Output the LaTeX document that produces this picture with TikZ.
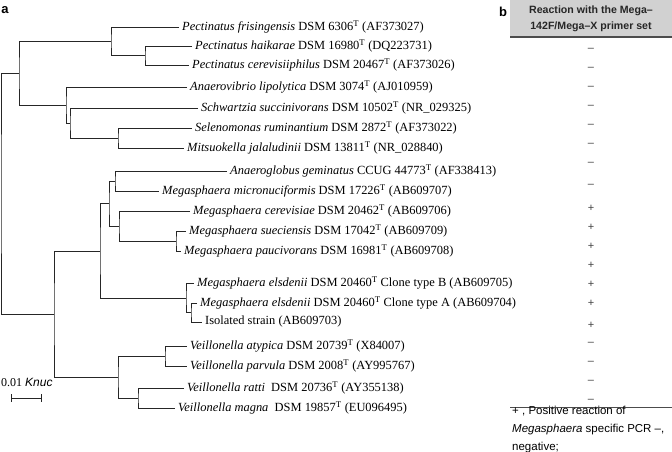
\documentclass[tikz,border=0pt]{standalone}
\usepackage{graphicx}
\usepackage{fontspec}
\setmainfont{Liberation Serif}
\newfontfamily\hsans{Liberation Sans}
\begin{document}
\begin{tikzpicture}[x=1pt,y=-1pt,
  br/.style={line width=0.8pt,draw=black!85},
  lbl/.style={anchor=west,inner sep=0pt,font=\fontsize{15}{16}\selectfont},
  sg/.style={font=\hsans\fontsize{11}{11}\selectfont,inner sep=0pt,text=black!75},
  panel/.style={font=\hsans\bfseries\fontsize{13}{13}\selectfont,inner sep=0pt}]
\useasboundingbox (0,0) rectangle (672,452);
\fill[black!18] (510,0) rectangle (672,37);
\draw[line width=1.5pt,black!70] (510,37) -- (672,37);
\draw[line width=1pt,black!70] (510,407) -- (672,407);
\node[panel] (la) at (5,10) {a};
\node[panel] (lb) at (503,12) {b};
\node[align=center,font=\hsans\bfseries\fontsize{10.6}{15.5}\selectfont,text=black!85] (hd) at (591,19) {Reaction with the Mega–\\142F/Mega–X primer set};
\node[anchor=north west,align=left,font=\hsans\fontsize{11.5}{18}\selectfont,inner sep=0pt] (fn) at (512,406) {+ , Positive reaction of\\\textit{Megasphaera} specific PCR –,\\negative;};
% leaves
\def\lf#1#2#3#4{\coordinate (#1) at (#3,#2); \node[lbl] (t#1) at (#3+3,#2) {\scalebox{0.83}{#4}};}
\lf{a1}{27}{179}{\textit{Pectinatus frisingensis} DSM 6306\textsuperscript{T} (AF373027)}
\lf{a2}{46}{192}{\textit{Pectinatus haikarae} DSM 16980\textsuperscript{T} (DQ223731)}
\lf{a3}{65}{189}{\textit{Pectinatus cerevisiiphilus} DSM 20467\textsuperscript{T} (AF373026)}
\lf{a4}{87}{187}{\textit{Anaerovibrio lipolytica} DSM 3074\textsuperscript{T} (AJ010959)}
\lf{a5}{108}{198}{\textit{Schwartzia succinivorans} DSM 10502\textsuperscript{T} (NR\_029325)}
\lf{a6}{128}{192}{\textit{Selenomonas ruminantium} DSM 2872\textsuperscript{T} (AF373022)}
\lf{a7}{148}{184}{\textit{Mitsuokella jalaludinii} DSM 13811\textsuperscript{T} (NR\_028840)}
\lf{a8}{171}{227}{\textit{Anaeroglobus geminatus} CCUG 44773\textsuperscript{T} (AF338413)}
\lf{a9}{191}{159}{\textit{Megasphaera micronuciformis} DSM 17226\textsuperscript{T} (AB609707)}
\lf{a10}{211}{190}{\textit{Megasphaera cerevisiae} DSM 20462\textsuperscript{T} (AB609706)}
\lf{a11}{231}{186}{\textit{Megasphaera sueciensis} DSM 17042\textsuperscript{T} (AB609709)}
\lf{a12}{251}{181}{\textit{Megasphaera paucivorans} DSM 16981\textsuperscript{T} (AB609708)}
\lf{a13}{283}{194}{\textit{Megasphaera elsdenii} DSM 20460\textsuperscript{T} Clone type B (AB609705)}
\lf{a14}{303}{197}{\textit{Megasphaera elsdenii} DSM 20460\textsuperscript{T} Clone type A (AB609704)}
\lf{a15}{322}{202}{Isolated strain (AB609703)}
\lf{a16}{346}{187}{\textit{Veillonella atypica} DSM 20739\textsuperscript{T} (X84007)}
\lf{a17}{366}{187}{\textit{Veillonella parvula} DSM 2008\textsuperscript{T} (AY995767)}
\lf{a18}{388}{184}{\textit{Veillonella ratti}\ \ DSM 20736\textsuperscript{T} (AY355138)}
\lf{a19}{408}{175}{\textit{Veillonella magna}\ \ DSM 19857\textsuperscript{T} (EU096495)}
% internal nodes: name, x, y, child1, child2
\def\nd#1#2#3#4#5{\coordinate (#1) at (#2,#3); \draw[br] (#4) -| (#1) |- (#5);}
\nd{P2}{145}{55.5}{a2}{a3}
\nd{P}{111}{41}{a1}{P2}
\nd{SM}{118}{138}{a6}{a7}
\nd{Sb}{70}{123}{a5}{SM}
\nd{An}{66}{105}{a4}{Sb}
\nd{U}{19}{73}{P}{An}
\nd{AM}{115}{181}{a8}{a9}
\nd{CP2}{176}{241}{a11}{a12}
\nd{CP}{119}{226}{a10}{CP2}
\nd{M1}{109}{203.5}{AM}{CP}
\nd{EA}{191}{312.5}{a14}{a15}
\nd{E}{186}{298}{a13}{EA}
\nd{Mg}{100}{251}{M1}{E}
\nd{V1}{165}{356}{a16}{a17}
\nd{V2}{138}{398}{a18}{a19}
\nd{V}{118}{377}{V1}{V2}
\nd{L}{54}{314}{Mg}{V}
\nd{R}{1}{194}{U}{L}
% scale bar
\node[anchor=west,inner sep=0pt,font=\fontsize{12}{12}\selectfont] (sc) at (1,382) {0.01 {\hsans\itshape Knuc}};
\coordinate (s1) at (11,398); \coordinate (s2) at (41,398);
\draw[br] (s1) -- (s2);
\draw[br] (11,394) -- (11,402) (41,394) -- (41,402);
% reactions
\foreach \y in {50,69,88,107,126,145,164,186,344,363,382,401} \node[sg] at (591,\y) {–};
\foreach \y in {208,227,246,265,284,303,325} \node[sg] at (591,\y) {+};
\end{tikzpicture}
\end{document}
